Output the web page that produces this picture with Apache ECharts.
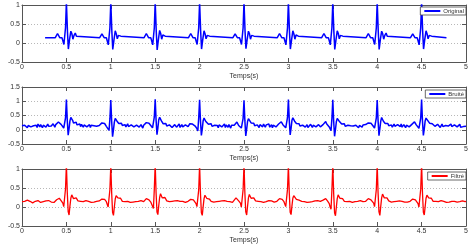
<!DOCTYPE html>
<html><head><meta charset="utf-8">
<script src="https://cdn.jsdelivr.net/npm/echarts@6/dist/echarts.min.js"></script>
<style>html,body{margin:0;padding:0;background:#fff}#c{width:474px;height:247px}</style>
</head><body><div id="c"></div>
<script>
// ---- data ----
const xTicks = [0, 0.5, 1, 1.5, 2, 2.5, 3, 3.5, 4, 4.5, 5];
const seriesNames = ['Original', 'Bruité', 'Filtré'];
const yRanges = [[-0.5, 1], [-0.5, 1.5], [-0.5, 1]];
const sampleStep = 0.01; // s, sampling of the noisy / filtered recordings

// Original (clean) ECG: [time s, amplitude V]
const originalSignal = [
[.26,.14],
[.375,.14],[.39,.18],[.4,.25],[.412,.2],[.425,.14],[.45,.14],[.458,.08],[.464,.13],[.472,-.04],[.49,.4],[.5,1.08],[.512,.3],[.522,-.16],[.535,.08],[.55,.31],[.562,.24],[.573,.1],[.586,.2],[.6,.26],[.613,.18],[.63,.14],
[.875,.14],[.89,.18],[.9,.24],[.912,.2],[.925,.14],[.95,.14],[.958,.09],[.964,.13],[.972,-.05],[.99,.4],[1,1.08],[1.012,.3],[1.022,-.17],[1.035,.07],[1.05,.32],[1.062,.24],[1.073,.11],[1.086,.2],[1.1,.25],[1.113,.18],[1.13,.14],
[1.375,.14],[1.39,.18],[1.4,.25],[1.412,.2],[1.425,.14],[1.45,.14],[1.458,.08],[1.464,.13],[1.472,-.05],[1.49,.4],[1.5,1.08],[1.512,.3],[1.522,-.18],[1.535,.07],[1.55,.33],[1.562,.25],[1.573,.1],[1.586,.21],[1.6,.26],[1.613,.18],[1.63,.14],
[1.875,.14],[1.89,.19],[1.9,.25],[1.912,.2],[1.925,.14],[1.95,.14],[1.958,.09],[1.964,.13],[1.972,-.04],[1.99,.4],[2,1.08],[2.012,.3],[2.022,-.16],[2.035,.08],[2.05,.32],[2.062,.24],[2.073,.11],[2.086,.2],[2.1,.25],[2.113,.18],[2.13,.14],
[2.375,.14],[2.39,.18],[2.4,.24],[2.412,.2],[2.425,.14],[2.45,.14],[2.458,.08],[2.464,.13],[2.472,-.04],[2.49,.4],[2.5,1.08],[2.512,.3],[2.522,-.15],[2.535,.08],[2.55,.31],[2.562,.24],[2.573,.1],[2.586,.2],[2.6,.25],[2.613,.18],[2.63,.14],
[2.875,.14],[2.89,.18],[2.9,.25],[2.912,.2],[2.925,.14],[2.95,.14],[2.958,.09],[2.964,.13],[2.972,-.05],[2.99,.4],[3,1.08],[3.012,.3],[3.022,-.16],[3.035,.07],[3.05,.32],[3.062,.24],[3.073,.1],[3.086,.21],[3.1,.26],[3.113,.18],[3.13,.14],
[3.375,.14],[3.39,.18],[3.4,.25],[3.412,.2],[3.425,.14],[3.45,.14],[3.458,.08],[3.464,.13],[3.472,-.05],[3.49,.4],[3.5,1.08],[3.512,.3],[3.522,-.17],[3.535,.07],[3.55,.32],[3.562,.25],[3.573,.11],[3.586,.2],[3.6,.25],[3.613,.18],[3.63,.14],
[3.875,.14],[3.89,.19],[3.9,.25],[3.912,.2],[3.925,.14],[3.95,.14],[3.958,.09],[3.964,.13],[3.972,-.04],[3.99,.4],[4,1.08],[4.012,.3],[4.022,-.17],[4.035,.08],[4.05,.31],[4.062,.24],[4.073,.1],[4.086,.2],[4.1,.26],[4.113,.18],[4.13,.14],
[4.375,.14],[4.39,.18],[4.4,.24],[4.412,.2],[4.425,.14],[4.45,.14],[4.458,.08],[4.464,.13],[4.472,-.05],[4.49,.4],[4.5,1.08],[4.512,.3],[4.522,-.16],[4.535,.08],[4.55,.32],[4.562,.24],[4.573,.11],[4.586,.2],[4.6,.25],[4.613,.18],[4.63,.14],
[4.78,.14]
];

// Noisy ECG, one value every 0.01 s from 0 to 5 s
const noisyAmp = [
.14,.2,.09,.16,.11,.19,.07,.15,.12,.21,.1,.17,.06,.14,.19,.11,.16,.08,.2,.13,.1,.18,.12,.07,.16,
.11,.19,.09,.15,.2,.12,.08,.17,.13,.1,.21,.14,.09,.18,.2,.16,.27,.21,.29,.19,.14,.18,.06,.03,.42,
1.06,.32,-.19,.04,.31,.43,.36,.33,.24,.29,.2,.26,.17,.22,.14,.2,.11,.19,.15,.09,.17,.12,.2,.1,.15,
.13,.18,.08,.16,.11,.2,.14,.07,.17,.12,.19,.1,.15,.21,.17,.24,.2,.28,.22,.18,.12,.16,.05,-.02,.38,
1.04,.28,-.24,0,.27,.4,.38,.3,.27,.22,.25,.18,.23,.15,.2,.12,.18,.1,.16,.21,.11,.14,.08,.17,.13,
.19,.1,.15,.07,.16,.12,.2,.09,.14,.18,.11,.06,.16,.13,.19,.25,.18,.27,.23,.16,.15,.1,.07,0,.45,
1.07,.34,-.17,.06,.35,.44,.39,.31,.28,.21,.26,.17,.22,.13,.19,.1,.17,.12,.2,.08,.15,.11,.18,.14,.09,
.16,.12,.2,.08,.14,.18,.1,.15,.06,.17,.13,.19,.11,.16,.21,.18,.26,.2,.27,.17,.13,.17,.04,-.04,.41,
1.05,.3,-.2,.03,.32,.41,.37,.29,.25,.3,.19,.24,.16,.21,.12,.18,.09,.16,.2,.11,.15,.07,.17,.13,.19,
.1,.15,.12,.2,.08,.17,.13,.09,.18,.14,.06,.16,.11,.19,.16,.23,.19,.27,.21,.15,.14,.11,.06,.01,.4,
1.03,.31,-.22,.02,.29,.39,.35,.32,.24,.27,.19,.23,.14,.2,.11,.17,.13,.08,.18,.12,.16,.1,.2,.14,.09,
.17,.11,.15,.2,.09,.13,.18,.07,.16,.12,.19,.1,.14,.17,.2,.25,.18,.28,.22,.17,.12,.16,.07,0,.43,
1.06,.33,-.18,.05,.33,.42,.37,.3,.26,.22,.27,.16,.21,.13,.19,.1,.16,.12,.2,.09,.15,.18,.08,.14,.11,
.19,.13,.08,.16,.12,.2,.1,.15,.06,.18,.13,.1,.17,.14,.18,.24,.2,.29,.21,.16,.14,.1,.05,-.03,.39,
1.05,.29,-.23,.01,.28,.4,.37,.31,.25,.28,.2,.24,.15,.21,.12,.18,.1,.16,.2,.11,.14,.08,.17,.13,.19,
.1,.16,.12,.19,.07,.15,.13,.2,.09,.17,.11,.14,.18,.12,.17,.24,.19,.27,.23,.16,.15,.11,.06,.01,.42,
1.04,.32,-.21,.04,.3,.43,.36,.3,.27,.22,.25,.17,.22,.14,.19,.11,.17,.09,.15,.2,.12,.16,.08,.18,.13,
.16,.11,.2,.09,.14,.18,.12,.07,.16,.13,.19,.1,.15,.12,.19,.25,.2,.28,.22,.17,.13,.16,.05,-.01,.41,
1.06,.3,-.2,.03,.31,.41,.38,.32,.26,.23,.27,.18,.21,.14,.2,.12,.17,.1,.19,.13,.16,.08,.15,.2,.11,
.17,.12,.15,.08,.19,.13,.1,.16,.2,.11,.14,.07,.17,.13,.18,.1,.15,.12,.19,.09,.16,.13,.11,.18,.14,
.12
];

// Filtered ECG, one value every 0.01 s from 0 to 5 s
const filteredAmp = [
.14,.16,.13,.15,.12,.16,.18,.14,.13,.15,.17,.13,.11,.14,.16,.15,.12,.14,.17,.16,.13,.12,.15,.17,.14,
.12,.15,.16,.13,.14,.17,.15,.12,.13,.16,.14,.12,.15,.17,.19,.21,.24,.23,.2,.17,.15,.1,.01,-.03,.48,
1.12,.38,-.12,-.21,.03,.23,.32,.29,.22,.18,.22,.24,.19,.16,.18,.2,.15,.13,.16,.14,.12,.15,.17,.14,.13,
.15,.17,.14,.12,.15,.16,.13,.14,.17,.15,.12,.13,.16,.14,.17,.21,.23,.24,.2,.16,.14,.09,0,-.05,.46,
1.1,.36,-.14,-.22,0,.21,.3,.31,.24,.19,.21,.23,.18,.15,.17,.19,.14,.16,.13,.15,.17,.14,.12,.15,.16,
.13,.15,.17,.14,.12,.16,.15,.13,.14,.17,.15,.12,.14,.16,.18,.22,.25,.23,.19,.16,.13,.1,.02,-.04,.47,
1.13,.37,-.13,-.2,.04,.25,.35,.31,.24,.2,.23,.25,.2,.16,.19,.17,.14,.16,.18,.15,.13,.14,.16,.13,.15,
.17,.14,.12,.15,.16,.13,.15,.17,.14,.12,.14,.16,.15,.13,.17,.2,.23,.22,.19,.15,.14,.09,.01,-.04,.45,
1.11,.35,-.15,-.22,.01,.22,.31,.3,.23,.19,.22,.21,.17,.15,.18,.16,.13,.15,.17,.14,.12,.16,.15,.13,.14,
.16,.13,.15,.17,.14,.12,.15,.16,.13,.14,.17,.15,.12,.14,.18,.21,.24,.22,.19,.16,.13,.1,0,-.05,.46,
1.12,.36,-.13,-.21,.02,.24,.33,.3,.23,.18,.21,.24,.2,.16,.17,.19,.15,.13,.16,.14,.17,.15,.12,.14,.16,
.14,.12,.15,.17,.13,.14,.16,.15,.12,.13,.16,.14,.15,.13,.17,.22,.24,.23,.2,.16,.14,.1,.01,-.03,.47,
1.1,.37,-.14,-.2,.03,.23,.3,.32,.25,.2,.22,.23,.18,.16,.18,.15,.13,.16,.14,.17,.15,.12,.14,.16,.13,
.15,.17,.14,.12,.15,.16,.13,.15,.17,.14,.12,.15,.16,.13,.18,.21,.23,.22,.2,.16,.13,.09,0,-.06,.45,
1.11,.35,-.15,-.23,0,.22,.32,.3,.23,.19,.22,.22,.18,.15,.17,.19,.14,.16,.13,.15,.17,.14,.12,.15,.16,
.14,.13,.16,.15,.12,.14,.17,.15,.13,.14,.16,.13,.15,.14,.18,.22,.24,.23,.19,.16,.14,.1,.01,-.04,.46,
1.12,.37,-.13,-.22,.02,.24,.34,.31,.24,.2,.22,.24,.19,.16,.18,.16,.13,.15,.17,.14,.13,.16,.15,.13,.14,
.16,.14,.12,.15,.17,.14,.13,.15,.16,.13,.14,.17,.15,.13,.17,.21,.24,.22,.19,.16,.14,.09,0,-.05,.47,
1.13,.36,-.14,-.21,.01,.23,.31,.31,.24,.19,.21,.23,.19,.15,.17,.19,.15,.13,.16,.14,.12,.15,.17,.14,.13,
.15,.17,.14,.12,.15,.16,.13,.14,.17,.15,.13,.12,.15,.16,.14,.13,.15,.17,.14,.12,.14,.16,.15,.13,.14,
.15
];

// ---- chart ----
const toPairs = arr => arr.map((v, i) => [Math.round(i * sampleStep * 100) / 100, v]);
const panelData = [originalSignal, toPairs(noisyAmp), toPairs(filteredAmp)];
const colors = ['#0000ff', '#0000ff', '#ff0000'];
const lineWidths = [1.5, 1.5, 1.3];
const tops = [5, 87, 169];
const axisColor = '#555';
const font = 'Liberation Sans, Arial, sans-serif';

const grid = [], xAxis = [], yAxis = [], series = [], legend = [];
for (let p = 0; p < 3; p++) {
  grid.push({left: 22, right: 8, top: tops[p], height: 57, containLabel: false, outerBoundsMode: 'none'});
  xAxis.push({
    type: 'value', gridIndex: p, min: 0, max: 5, interval: 0.5, position: 'bottom',
    axisLine: {show: true, onZero: false, lineStyle: {color: axisColor, width: 1}},
    axisTick: {show: true, inside: true, length: 4, lineStyle: {color: axisColor}},
    axisLabel: {show: true, fontSize: 7, color: '#333', margin: 2, fontFamily: font,
      formatter: v => String(v)},
    splitLine: {show: false},
    name: 'Temps(s)', nameLocation: 'middle', nameGap: 11,
    nameTextStyle: {fontSize: 7, color: '#333', fontFamily: font}
  });
  xAxis.push({
    type: 'value', gridIndex: p, min: 0, max: 5, interval: 0.5, position: 'top',
    axisLine: {show: true, onZero: false, lineStyle: {color: axisColor, width: 1}},
    axisTick: {show: true, inside: true, length: 4, lineStyle: {color: axisColor}},
    axisLabel: {show: false}, splitLine: {show: false}
  });
  yAxis.push({
    type: 'value', gridIndex: p, min: yRanges[p][0], max: yRanges[p][1], interval: 0.5, position: 'left',
    axisLine: {show: true, onZero: false, lineStyle: {color: axisColor, width: 1}},
    axisTick: {show: true, inside: true, length: 4, lineStyle: {color: axisColor}},
    axisLabel: {show: true, fontSize: 7, color: '#333', margin: 2, fontFamily: font},
    splitLine: {show: true, lineStyle: {color: '#b8b8b8', type: [1, 2], width: 1}},
    name: 'Amplitude(V)', nameLocation: 'middle', nameGap: 15, nameRotate: 90,
    nameTextStyle: {fontSize: 6.5, color: '#333', fontFamily: font}
  });
  yAxis.push({
    type: 'value', gridIndex: p, min: yRanges[p][0], max: yRanges[p][1], interval: 0.5, position: 'right',
    axisLine: {show: true, onZero: false, lineStyle: {color: axisColor, width: 1}},
    axisTick: {show: true, inside: true, length: 4, lineStyle: {color: axisColor}},
    axisLabel: {show: false}, splitLine: {show: false}
  });
  series.push({
    name: seriesNames[p], type: 'line', xAxisIndex: 2 * p, yAxisIndex: 2 * p,
    data: panelData[p], symbol: 'none', animation: false, clip: true,
    lineStyle: {color: colors[p], width: lineWidths[p]}, itemStyle: {color: colors[p]}
  });
  legend.push({
    data: [seriesNames[p]], right: 8, top: tops[p] + (p === 0 ? 2 : 3),
    orient: 'vertical', backgroundColor: '#fff', borderColor: '#444', borderWidth: 0.8,
    padding: [1, 2, 1, 3], itemWidth: 16, itemHeight: 6, itemGap: 2,
    itemStyle: {opacity: 0},
    textStyle: {fontSize: 6, color: '#333', fontFamily: font, padding: [0, 0, 0, -2]},
    selectedMode: false
  });
}

const chart = echarts.init(document.getElementById('c'), null, {renderer: 'canvas'});
chart.setOption({animation: false, backgroundColor: '#fff', grid, xAxis, yAxis, series, legend});
</script>
</body></html>
